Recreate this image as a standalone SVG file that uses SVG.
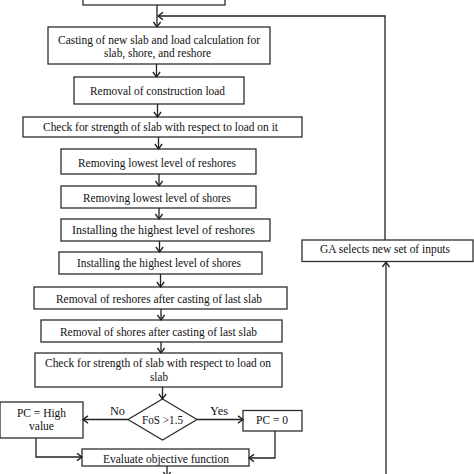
<svg xmlns="http://www.w3.org/2000/svg" width="474" height="474" viewBox="0 0 474 474">
<defs>
<marker id="arr" viewBox="-6 -5 8 10" refX="0" refY="0" markerWidth="8" markerHeight="10" markerUnits="userSpaceOnUse" orient="auto">
<path d="M-5,-3.6 L0,0 L-5,3.6" fill="none" stroke="#222" stroke-width="1.3"/>
</marker>
<style>
.b{fill:#fff;stroke:#2e2e2e;stroke-width:1.3}
.t{font-family:"Liberation Serif","Times New Roman",serif;font-size:12px;fill:#111;text-anchor:middle}
.c{fill:none;stroke:#222;stroke-width:1.3;marker-end:url(#arr)}
</style>
</defs>
<rect width="474" height="474" fill="#fff"/>
<g id="n0"><rect class="b" x="83" y="-10" width="142" height="15"/></g>
<g id="n1"><rect class="b" x="48" y="27" width="222" height="37"/>
<text class="t" x="159" y="44" textLength="202" lengthAdjust="spacingAndGlyphs">Casting of new slab and load calculation for</text>
<text class="t" x="157.5" y="57" textLength="107" lengthAdjust="spacingAndGlyphs">slab, shore, and reshore</text></g>
<g id="n2"><rect class="b" x="74" y="77" width="170" height="27"/>
<text class="t" x="157.5" y="95" textLength="135" lengthAdjust="spacingAndGlyphs">Removal of construction load</text></g>
<g id="n3"><rect class="b" x="23" y="117" width="279" height="20"/>
<text class="t" x="160.5" y="131" textLength="235" lengthAdjust="spacingAndGlyphs">Check for strength of slab with respect to load on it</text></g>
<g id="n4"><rect class="b" x="61" y="149" width="195" height="25"/>
<text class="t" x="157" y="167" textLength="158" lengthAdjust="spacingAndGlyphs">Removing lowest level of reshores</text></g>
<g id="n5"><rect class="b" x="61" y="186" width="195" height="22"/>
<text class="t" x="157" y="202" textLength="148" lengthAdjust="spacingAndGlyphs">Removing lowest level of shores</text></g>
<g id="n6"><rect class="b" x="61" y="219" width="209" height="22"/>
<text class="t" x="163.5" y="233.5" textLength="183" lengthAdjust="spacingAndGlyphs">Installing the highest level of reshores</text></g>
<g id="n7"><rect class="b" x="59" y="252" width="203" height="22"/>
<text class="t" x="159" y="267" textLength="164" lengthAdjust="spacingAndGlyphs">Installing the highest level of shores</text></g>
<g id="n8"><rect class="b" x="34" y="287" width="253" height="22"/>
<text class="t" x="159" y="302.5" textLength="206" lengthAdjust="spacingAndGlyphs">Removal of reshores after casting of last slab</text></g>
<g id="n9"><rect class="b" x="41" y="320" width="241" height="22"/>
<text class="t" x="158.5" y="336" textLength="197" lengthAdjust="spacingAndGlyphs">Removal of shores after casting of last slab</text></g>
<g id="n10"><rect class="b" x="35" y="353" width="247" height="34"/>
<text class="t" x="158" y="367" textLength="226" lengthAdjust="spacingAndGlyphs">Check for strength of slab with respect to load on</text>
<text class="t" x="159" y="381" textLength="18" lengthAdjust="spacingAndGlyphs">slab</text></g>
<g id="n11"><polygon class="b" points="162.5,399 197,419.5 162.5,440 128,419.5"/>
<text class="t" x="162.5" y="423.5" textLength="41" lengthAdjust="spacingAndGlyphs">FoS &gt;1.5</text></g>
<g id="n12"><rect class="b" x="0" y="402" width="83" height="36"/>
<text class="t" x="41.5" y="416.5" textLength="49" lengthAdjust="spacingAndGlyphs">PC = High</text>
<text class="t" x="41.5" y="430" textLength="25" lengthAdjust="spacingAndGlyphs">value</text></g>
<g id="n13"><rect class="b" x="243" y="410.5" width="59" height="20.5"/>
<text class="t" x="272" y="424" textLength="32" lengthAdjust="spacingAndGlyphs">PC = 0</text></g>
<g id="n14"><rect class="b" x="82" y="449" width="167" height="17"/>
<text class="t" x="166" y="462.5" textLength="126" lengthAdjust="spacingAndGlyphs">Evaluate objective function</text></g>
<g id="n15"><rect class="b" x="302" y="240" width="171" height="21.5"/>
<text class="t" x="385" y="253" textLength="130" lengthAdjust="spacingAndGlyphs">GA selects new set of inputs</text></g>
<g id="connectors">
<path class="c" d="M157,5 V27"/>
<path class="c" d="M385,240 V16 H158"/>
<path class="c" d="M156.5,64 V77"/>
<path class="c" d="M157.5,104 V117"/>
<path class="c" d="M158.5,137 V149"/>
<path class="c" d="M159,174 V186"/>
<path class="c" d="M159,208 V219"/>
<path class="c" d="M159.5,241 V252"/>
<path class="c" d="M160.5,274 V287"/>
<path class="c" d="M161,309 V320"/>
<path class="c" d="M161,342 V353"/>
<path class="c" d="M162.5,387 V399"/>
<path class="c" d="M128,419.5 H83"/>
<path class="c" d="M197,419.5 H243"/>
<path class="c" d="M36,438 V457 H82"/>
<path class="c" d="M275,431 V458 H249"/>
<path class="c" d="M167,466 V477"/>
<path class="c" d="M386,474 V262"/>
<text class="t" x="117.5" y="414.5" textLength="15" lengthAdjust="spacingAndGlyphs">No</text>
<text class="t" x="219" y="414.5" textLength="18" lengthAdjust="spacingAndGlyphs">Yes</text>
</g>
</svg>
